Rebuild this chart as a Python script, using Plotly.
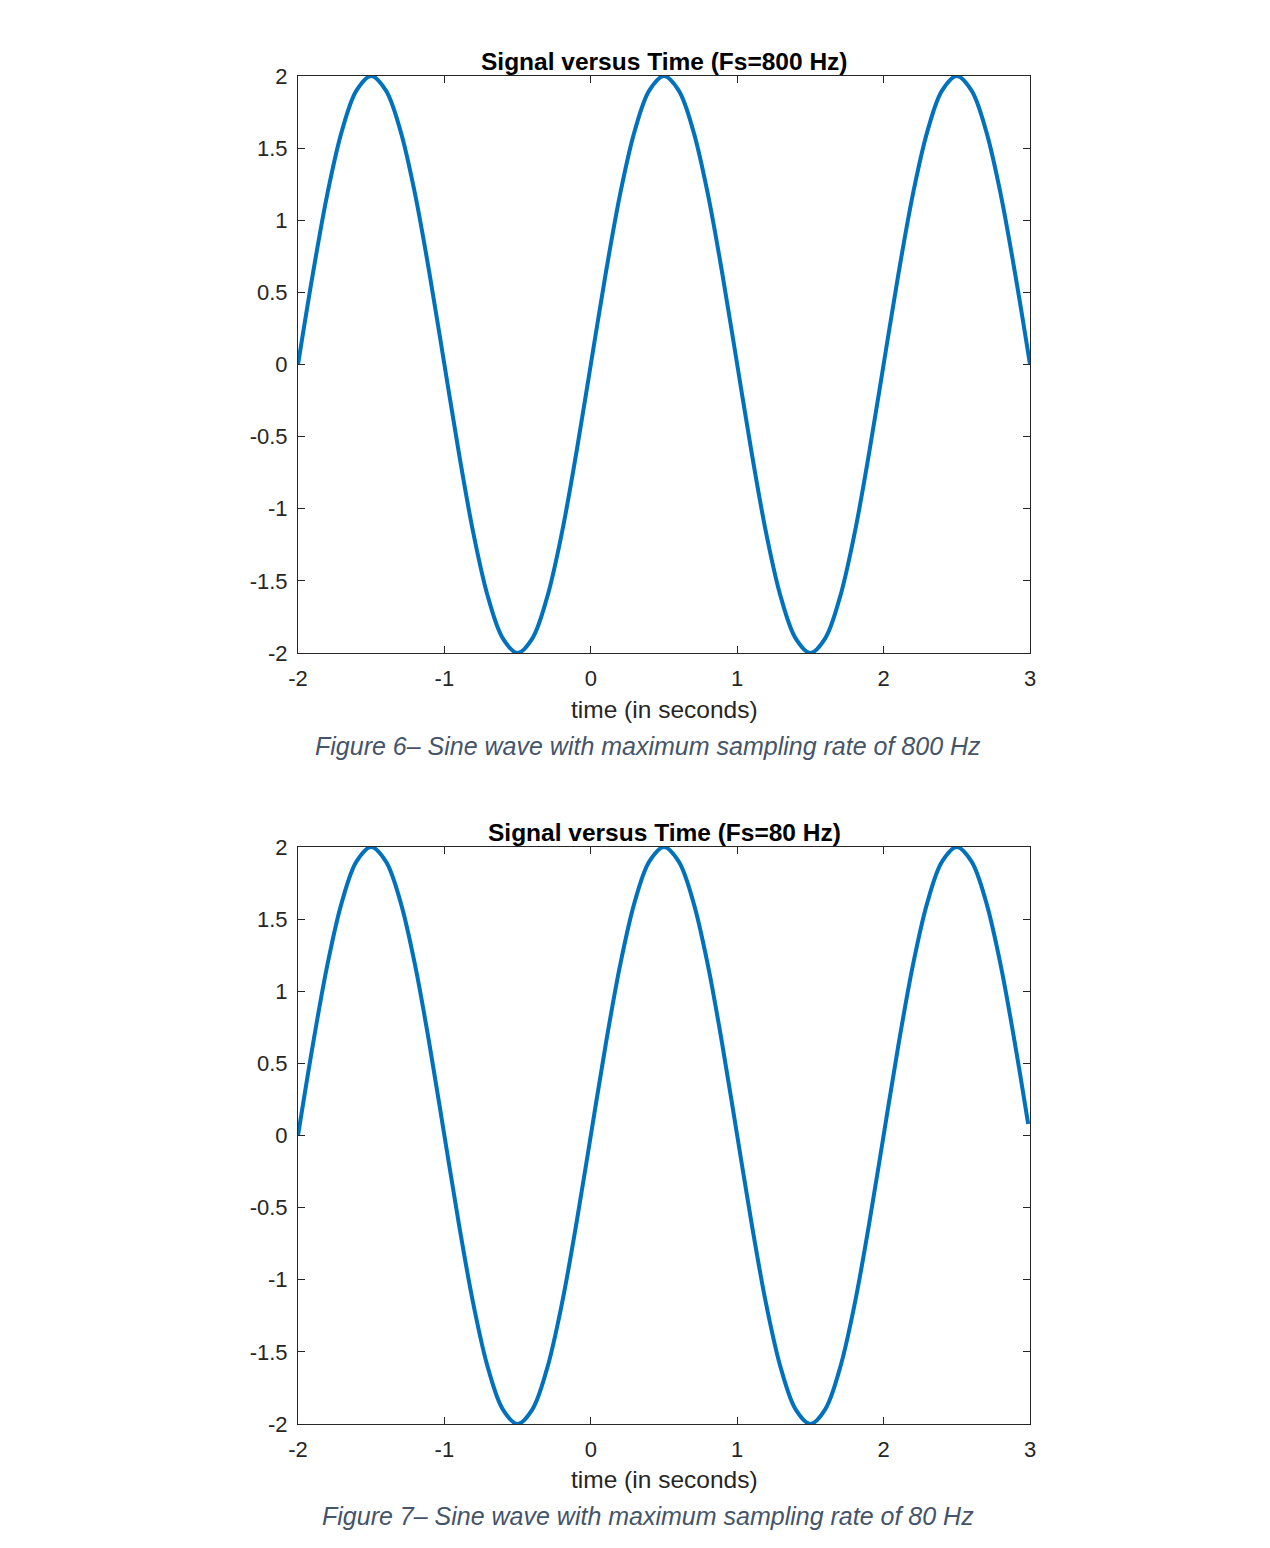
import plotly.graph_objects as go

# time samples (seconds)
t_800 = [-2.0, -1.9, -1.8, -1.7, -1.6, -1.5, -1.4, -1.3, -1.2, -1.1,
         -1.0, -0.9, -0.8, -0.7, -0.6, -0.5, -0.4, -0.3, -0.2, -0.1,
         0.0, 0.1, 0.2, 0.3, 0.4, 0.5, 0.6, 0.7, 0.8, 0.9,
         1.0, 1.1, 1.2, 1.3, 1.4, 1.5, 1.6, 1.7, 1.8, 1.9,
         2.0, 2.1, 2.2, 2.3, 2.4, 2.5, 2.6, 2.7, 2.8, 2.9,
         3.0]
sig_800 = [0, 0.62, 1.18, 1.62, 1.9, 2.0, 1.9, 1.62, 1.18, 0.62,
           0, -0.62, -1.18, -1.62, -1.9, -2.0, -1.9, -1.62, -1.18, -0.62,
           0, 0.62, 1.18, 1.62, 1.9, 2.0, 1.9, 1.62, 1.18, 0.62,
           0, -0.62, -1.18, -1.62, -1.9, -2.0, -1.9, -1.62, -1.18, -0.62,
           0, 0.62, 1.18, 1.62, 1.9, 2.0, 1.9, 1.62, 1.18, 0.62,
           0]

t_80 = [-2.0, -1.9, -1.8, -1.7, -1.6, -1.5, -1.4, -1.3, -1.2, -1.1,
        -1.0, -0.9, -0.8, -0.7, -0.6, -0.5, -0.4, -0.3, -0.2, -0.1,
        0.0, 0.1, 0.2, 0.3, 0.4, 0.5, 0.6, 0.7, 0.8, 0.9,
        1.0, 1.1, 1.2, 1.3, 1.4, 1.5, 1.6, 1.7, 1.8, 1.9,
        2.0, 2.1, 2.2, 2.3, 2.4, 2.5, 2.6, 2.7, 2.8, 2.9,
        2.9875]
sig_80 = [0, 0.62, 1.18, 1.62, 1.9, 2.0, 1.9, 1.62, 1.18, 0.62,
          0, -0.62, -1.18, -1.62, -1.9, -2.0, -1.9, -1.62, -1.18, -0.62,
          0, 0.62, 1.18, 1.62, 1.9, 2.0, 1.9, 1.62, 1.18, 0.62,
          0, -0.62, -1.18, -1.62, -1.9, -2.0, -1.9, -1.62, -1.18, -0.62,
          0, 0.62, 1.18, 1.62, 1.9, 2.0, 1.9, 1.62, 1.18, 0.62,
          0.08]

x_ticks = [-2, -1, 0, 1, 2, 3]
x_labels = ["-2", "-1", "0", "1", "2", "3"]
y_ticks = [-2, -1.5, -1, -0.5, 0, 0.5, 1, 1.5, 2]
y_labels = ["-2", "-1.5", "-1", "-0.5", "0", "0.5", "1", "1.5", "2"]

titles = ["Signal versus Time (Fs=800 Hz)", "Signal versus Time (Fs=80 Hz)"]
captions = ["Figure 6– Sine wave with maximum sampling rate of 800 Hz",
            "Figure 7– Sine wave with maximum sampling rate of 80 Hz"]

W, H = 1270, 1548
OFF = 8  # the page body adds an 8px margin
FONT = "Liberation Sans, Arial, sans-serif"
AX = "#262626"
BLUE = "#0072BD"

def px_x(p):
    return (p - OFF) / W

def px_y(p):
    return 1 - (p - OFF) / H

fig = go.Figure()
fig.add_trace(go.Scatter(x=t_800, y=sig_800, mode="lines", xaxis="x", yaxis="y",
                         line=dict(color=BLUE, width=4, shape="spline", smoothing=1.0)))
fig.add_trace(go.Scatter(x=t_80, y=sig_80, mode="lines", xaxis="x2", yaxis="y2",
                         line=dict(color=BLUE, width=4, shape="spline", smoothing=1.0)))

x_dom = [px_x(298), px_x(1030)]
doms = [[px_y(653), px_y(76)], [px_y(1424), px_y(847)]]

def xax(anchor):
    return dict(domain=x_dom, range=[-2, 3], anchor=anchor, tickvals=x_ticks,
                ticktext=x_labels, ticks="inside", ticklen=7, tickcolor=AX,
                showline=True, linecolor=AX, linewidth=1, mirror="ticks",
                showgrid=False, zeroline=False, automargin=False,
                ticklabelstandoff=6,
                tickfont=dict(family=FONT, size=22, color=AX))

def yax(anchor, dom):
    return dict(domain=dom, range=[-2, 2], anchor=anchor, tickvals=y_ticks,
                ticktext=y_labels, ticks="inside", ticklen=7, tickcolor=AX,
                showline=True, linecolor=AX, linewidth=1, mirror="ticks",
                showgrid=False, zeroline=False, automargin=False,
                ticklabelstandoff=5,
                tickfont=dict(family=FONT, size=22, color=AX))

fig.update_layout(
    template="none",
    width=W, height=H, margin=dict(l=0, r=0, t=0, b=0),
    paper_bgcolor="white", plot_bgcolor="white", showlegend=False,
    xaxis=xax("y"), yaxis=yax("x", doms[0]),
    xaxis2=xax("y2"), yaxis2=yax("x2", doms[1]),
)

# titles, x labels and captions positioned in page pixels
title_y = [62, 832]
xlabel_y = [709, 1479]
caption_y = [746, 1516]
for i in range(2):
    fig.add_annotation(x=px_x(664), y=px_y(title_y[i]), xref="paper", yref="paper",
                       yanchor="middle", text="<b>" + titles[i] + "</b>", showarrow=False,
                       font=dict(family=FONT, size=24.5, color="black"))
    fig.add_annotation(x=px_x(664), y=px_y(xlabel_y[i]), xref="paper", yref="paper",
                       yanchor="middle", text="time (in seconds)", showarrow=False,
                       font=dict(family=FONT, size=24.5, color=AX))
    fig.add_annotation(x=px_x(648), y=px_y(caption_y[i]), xref="paper", yref="paper",
                       yanchor="middle", text="<i>" + captions[i] + "</i>", showarrow=False,
                       font=dict(family=FONT, size=25, color="#44546A"))

fig.write_html("out.html")
